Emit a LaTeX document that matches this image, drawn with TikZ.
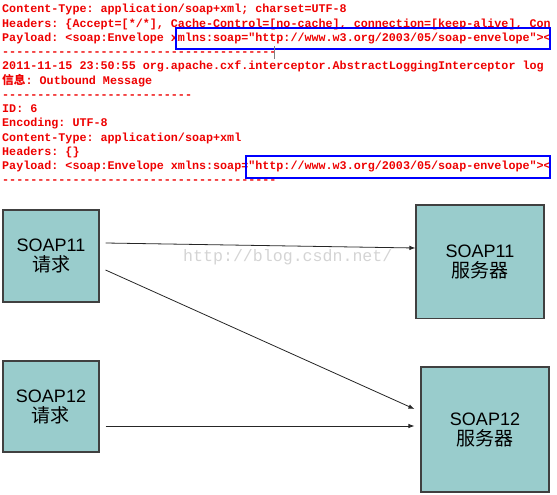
\documentclass[tikz,border=0pt]{standalone}
\usepackage{fontspec}
\setsansfont{Liberation Sans}
\setmonofont{Liberation Mono}
\newfontfamily\cjk{Noto Sans CJK SC}
\usepackage{tikz}
\usetikzlibrary{arrows.meta,positioning,calc}

\definecolor{logred}{RGB}{238,0,0}
\definecolor{boxfill}{RGB}{153,204,204}
\definecolor{boxline}{RGB}{64,64,64}
\newcommand{\boxcjk}[1]{{\cjk\fontsize{19}{20}\selectfont #1}}

\begin{document}
\begin{tikzpicture}[x=1pt, y=-1pt,
		logline/.style={anchor=base west, inner sep=0, text=logred,
			font=\ttfamily\bfseries\fontsize{11.72}{14}\selectfont},
		soapbox/.style={draw=boxline, fill=boxfill, line width=1.1pt, inner sep=0,
			align=center, font=\sffamily\fontsize{18}{20}\selectfont},
		flow/.style={draw=black!85, line width=0.8pt, -{Latex[length=6pt,width=4.5pt]}},
		hilite/.style={draw=blue, line width=2pt}]
	\useasboundingbox (0,0) rectangle (557,495);

		% Draw the log lines
		\node[logline] (ln1)  at (2,12.8)  {Content-Type: application/soap+xml; charset=UTF-8};
		\node[logline] (ln2)  at (2,27.05) {Headers: \{Accept=[*/*], Cache-Control=[no-cache], connection=[keep-alive], Con};
		\node[logline] (ln3)  at (2,41.3)  {Payload: <soap:Envelope xmlns:soap="http://www.w3.org/2003/05/soap-envelope"><};
		\node[logline] (ln4)  at (2,55.55) {---------------------------------------};
		\node[logline] (ln5)  at (2,69.8)  {2011-11-15 23:50:55 org.apache.cxf.interceptor.AbstractLoggingInterceptor log};
		\node[logline] (ln6)  at (2,84.05) {{\cjk 信息}: Outbound Message};
		\node[logline] (ln7)  at (2,98.3)  {---------------------------};
		\node[logline] (ln8)  at (2,112.55) {ID: 6};
		\node[logline] (ln9)  at (2,126.8) {Encoding: UTF-8};
		\node[logline] (ln10) at (2,141.05) {Content-Type: application/soap+xml};
		\node[logline] (ln11) at (2,155.3) {Headers: \{\}};
		\node[logline] (ln12) at (2,169.55) {Payload: <soap:Envelope xmlns:soap="http://www.w3.org/2003/05/soap-envelope"><};
		\node[logline] (ln13) at (2,183.8) {---------------------------------------};

		% Mark the namespaces
		\draw[hilite] (175.5,28) rectangle (549.5,49.5);
		\draw[hilite] (246,156) rectangle (549.5,178);
		\draw[gray, line width=1pt] (274,46) -- (274,59);

		% Draw the boxes
		\node[soapbox, minimum width=96pt, minimum height=92pt]  (req11) at (51,256)    {SOAP11\\\boxcjk{请求}};
		\node[soapbox, minimum width=96pt, minimum height=91pt]  (req12) at (51,406.5)  {SOAP12\\\boxcjk{请求}};
		\node[soapbox, minimum width=128pt, minimum height=113.5pt] (srv11) at (480,261.75) {SOAP11\\\boxcjk{服务器}};
		\node[soapbox, minimum width=128pt, minimum height=125pt] (srv12) at (485,429.5) {SOAP12\\\boxcjk{服务器}};

		\node[anchor=base west, inner sep=0, text=black!17,
			font=\ttfamily\fontsize{16.6}{18}\selectfont] (wmark) at (183,261.7) {http://blog.csdn.net/};

		% Connect the boxes with arrows
		\draw[flow] ([shift={(6,-13)}]req11.east) -- ([shift={(0,-13.75)}]srv11.west);
		\draw[flow] ([shift={(6,14)}]req11.east) -- ([shift={(-6,-20.5)}]srv12.west);
		\draw[flow] ([shift={(6,19.5)}]req12.east) -- ([shift={(-6,-3.5)}]srv12.west);
\end{tikzpicture}
\end{document}
